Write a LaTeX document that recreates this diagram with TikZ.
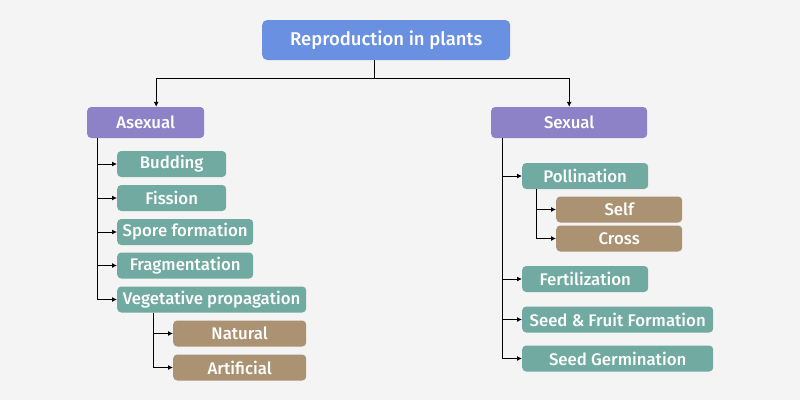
\documentclass[tikz,border=0pt]{standalone}
\usepackage{fontspec}
\setmainfont{Fira Sans}[UprightFont=* Medium]
\usetikzlibrary{calc, arrows.meta}

\definecolor{bgcol}{HTML}{F4F4F4}
\definecolor{rootcol}{HTML}{6A90E2}
\definecolor{maincol}{HTML}{8D82C7}
\definecolor{subcol}{HTML}{70AAA1}
\definecolor{leafcol}{HTML}{AA9273}

\tikzset{
	box/.style={rounded corners=4pt, text=white, inner sep=0pt, anchor=west,
		minimum height=26pt, font=\fontsize{16.8}{19}\selectfont},
	rootbox/.style={box, fill=rootcol, minimum height=40pt, rounded corners=5pt,
		font=\fontsize{18.5}{22}\selectfont},
	mainbox/.style={box, fill=maincol, minimum height=31pt},
	subbox/.style={box, fill=subcol},
	leafbox/.style={box, fill=leafcol},
	link/.style={black, line width=0.9pt, -{Latex[length=5pt, width=5pt]}},
}

\begin{document}
\begin{tikzpicture}[x=1pt, y=-1pt]
		\fill[bgcol] (0,0) rectangle (800,400);
		\useasboundingbox (0,0) rectangle (800,400);

		\node[rootbox, minimum width=248pt] (root) at (262,40) {Reproduction in plants};

		\node[mainbox, minimum width=117pt] (asex) at (87,122.5) {Asexual};
		\node[mainbox, minimum width=156pt] (sex) at (491,122.5) {Sexual};

		\begin{scope}[every node/.style=subbox]
			\node[minimum width=109pt] (bud) at (117,164) {Budding};
			\node[minimum width=109pt] (fis) at (117,198) {Fission};
			\node[minimum width=136pt] (spore) at (117,232) {Spore formation};
			\node[minimum width=136pt] (frag) at (117,265.5) {Fragmentation};
			\node[minimum width=189pt] (veg) at (117,299.5) {Vegetative propagation};

			\node[minimum width=126pt] (poll) at (522,176) {Pollination};
			\node[minimum width=126pt] (fert) at (522,279) {Fertilization};
			\node[minimum width=191pt] (fruit) at (522,319.5) {Seed \& Fruit Formation};
			\node[minimum width=191pt] (germ) at (522,358.5) {Seed Germination};
		\end{scope}

		\begin{scope}[every node/.style=leafbox]
			\node[minimum width=133pt] (nat) at (173,333.5) {Natural};
			\node[minimum width=133pt] (art) at (173,367.5) {Artificial};
			\node[minimum width=126pt] (self) at (556,209.5) {Self};
			\node[minimum width=126pt] (cross) at (556,238.5) {Cross};
		\end{scope}

		\coordinate (split) at (374,78);
		\draw[black, line width=0.9pt] (root.south -| split) -- (split);
		\draw[link] (split) -| ([xshift=10.5pt]asex.north);
		\draw[link] (split) -| (sex.north);

		\foreach \n in {bud, fis, spore, frag, veg}
			\draw[link] ([xshift=10pt]asex.south west) |- (\n.west);
		\foreach \n in {poll, fert, fruit, germ}
			\draw[link] ([xshift=11pt]sex.south west) |- (\n.west);
		\foreach \n in {nat, art}
			\draw[link] ([xshift=36pt]veg.south west) |- (\n.west);
		\foreach \n in {self, cross}
			\draw[link] ([xshift=14pt]poll.south west) |- (\n.west);
	\end{tikzpicture}
\end{document}
